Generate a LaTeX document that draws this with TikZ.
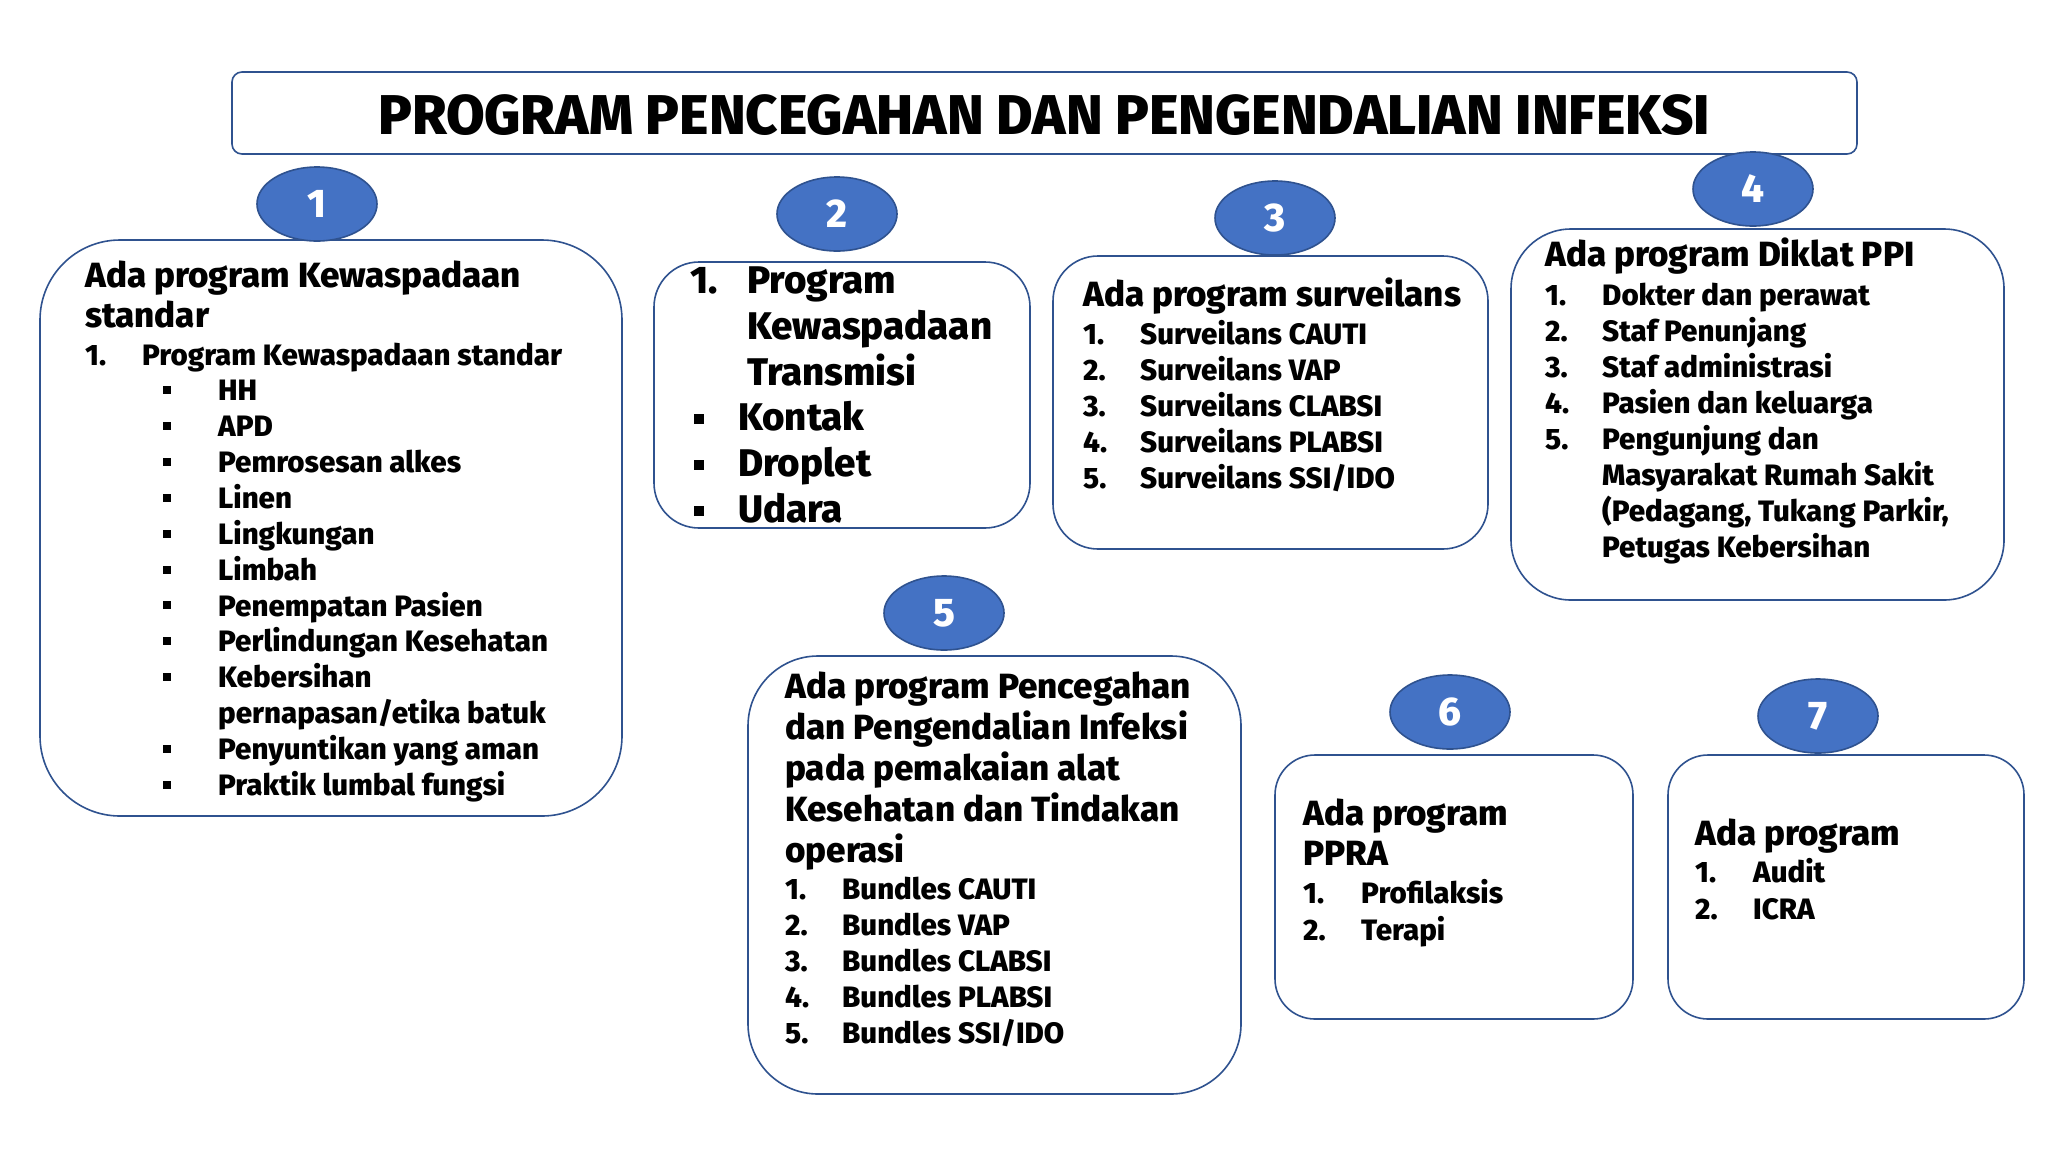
\documentclass[tikz,border=0pt]{standalone}
\usepackage{fontspec}
\setmainfont{Fira Sans}[BoldFont={Fira Sans ExtraBold}]
\usetikzlibrary{shapes.geometric}
\definecolor{ppiblue}{HTML}{4472C4}
\definecolor{ppiline}{HTML}{2F528F}

\begin{document}
\begin{tikzpicture}[x=1pt, y=-1pt,
  box/.style={draw=ppiline, line width=1.6pt},
  num/.style={ellipse, draw=ppiline, line width=1.6pt, fill=ppiblue, text=white, minimum width=120, minimum height=74, inner sep=0, font=\fontsize{40}{40}\selectfont\bfseries},
  head/.style={anchor=mid west, inner sep=0, yshift=-8, font=\fontsize{35}{35}\selectfont\bfseries},
  item/.style={anchor=mid west, inner sep=0, yshift=-8, font=\fontsize{29.5}{29.5}\selectfont\bfseries},
  big/.style={anchor=mid west, inner sep=0, yshift=-9, font=\fontsize{38.5}{38.5}\selectfont\bfseries}]
\fill[white] (0,0) rectangle (2048,1152);
\useasboundingbox (0,0) rectangle (2048,1152);

\draw[box, rounded corners=10] (232,72) rectangle (1857,154);
\node[font=\fontsize{56}{56}\selectfont\bfseries] (title) at (1044,115) {PROGRAM PENCEGAHAN DAN PENGENDALIAN INFEKSI};

% 1
\draw[box, rounded corners=80] (40,240) rectangle (622,816);
\node[num] (n1) at (317,204) {1};
\node[head] (h1a) at (85,277) {Ada program Kewaspadaan};
\node[head] (h1b) at (85,317) {standar};
\node[item] (k1) at (85,355) {1.};
\node[item] (t1) at (142,355) {Program Kewaspadaan standar};
\foreach \t [count=\i] in {HH, APD, Pemrosesan alkes, Linen, Lingkungan, Limbah, Penempatan Pasien, Perlindungan Kesehatan, Kebersihan, pernapasan/etika batuk, Penyuntikan yang aman, Praktik lumbal fungsi}
  \node[item] (s1-\i) at (218,{390+35.9*(\i-1)}) {\t};
\foreach \i in {1,...,9,11,12}
  \fill (163,{386+35.9*(\i-1)}) rectangle ++(8,8);

% 2
\draw[box, rounded corners=45] (654,262) rectangle (1030,528);
\node[num] (n2) at (837,214) {2};
\node[big] (k2) at (690,282) {1.};
\foreach \t [count=\i] in {Program, Kewaspadaan, Transmisi}
  \node[big] (t2-\i) at (747,{282+45.8*(\i-1)}) {\t};
\foreach \t [count=\i] in {Kontak, Droplet, Udara} {
  \node[big] (s2-\i) at (738,{419+45.8*(\i-1)}) {\t};
  \fill (694,{414+45.8*(\i-1)}) rectangle ++(10,10);
}

% 3
\draw[box, rounded corners=45] (1053,256) rectangle (1488,549);
\node[num] (n3) at (1275,218) {3};
\node[head] (h3) at (1083,296) {Ada program surveilans};
\foreach \t [count=\i] in {Surveilans CAUTI, Surveilans VAP, Surveilans CLABSI, Surveilans PLABSI, Surveilans SSI/IDO} {
  \node[item] (k3-\i) at (1083,{334+36*(\i-1)}) {\i.};
  \node[item] (t3-\i) at (1140,{334+36*(\i-1)}) {\t};
}

% 4
\draw[box, rounded corners=60] (1511,229) rectangle (2004,600);
\node[num] (n4) at (1753,189) {4};
\node[head] (h4) at (1545,256) {Ada program Diklat PPI};
\foreach \i in {1,...,5}
  \node[item] (k4-\i) at (1545,{295+36*(\i-1)}) {\i.};
\foreach \t [count=\i] in {Dokter dan perawat, Staf Penunjang, Staf administrasi, Pasien dan keluarga, Pengunjung dan, Masyarakat Rumah Sakit, {(Pedagang, Tukang Parkir,}, Petugas Kebersihan}
  \node[item] (t4-\i) at (1602,{295+36*(\i-1)}) {\t};

% 5
\draw[box, rounded corners=70] (748,656) rectangle (1241,1094);
\node[num] (n5) at (944,613) {5};
\foreach \t [count=\i] in {Ada program Pencegahan, dan Pengendalian Infeksi, pada pemakaian alat, Kesehatan dan Tindakan, operasi}
  \node[head] (h5-\i) at (785,{688+41*(\i-1)}) {\t};
\foreach \t [count=\i] in {Bundles CAUTI, Bundles VAP, Bundles CLABSI, Bundles PLABSI, Bundles SSI/IDO} {
  \node[item] (k5-\i) at (785,{889+36*(\i-1)}) {\i.};
  \node[item] (t5-\i) at (842,{889+36*(\i-1)}) {\t};
}

% 6
\draw[box, rounded corners=40] (1275,755) rectangle (1633,1019);
\node[num] (n6) at (1450,712) {6};
\node[head] (h6a) at (1303,815) {Ada program};
\node[head] (h6b) at (1303,855) {PPRA};
\foreach \t [count=\i] in {Profilaksis, Terapi} {
  \node[item] (k6-\i) at (1303,{893+37*(\i-1)}) {\i.};
  \node[item] (t6-\i) at (1361,{893+37*(\i-1)}) {\t};
}

% 7
\draw[box, rounded corners=40] (1668,755) rectangle (2024,1019);
\node[num] (n7) at (1818,716) {7};
\node[head] (h7) at (1695,835) {Ada program};
\foreach \t [count=\i] in {Audit, ICRA} {
  \node[item] (k7-\i) at (1695,{872+37*(\i-1)}) {\i.};
  \node[item] (t7-\i) at (1753,{872+37*(\i-1)}) {\t};
}
\end{tikzpicture}
\end{document}
